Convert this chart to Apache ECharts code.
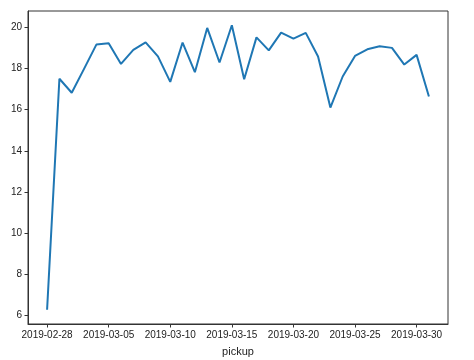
<!DOCTYPE html>
<html><head><meta charset="utf-8">
<script src="https://cdn.jsdelivr.net/npm/echarts@6/dist/echarts.min.js"></script>
<style>html,body{margin:0;padding:0;background:#fff}#c{width:474px;height:360px}</style>
</head><body><div id="c"></div>
<script>
const dates = ["2019-02-28","2019-03-01","2019-03-02","2019-03-03","2019-03-04","2019-03-05","2019-03-06","2019-03-07","2019-03-08","2019-03-09","2019-03-10","2019-03-11","2019-03-12","2019-03-13","2019-03-14","2019-03-15","2019-03-16","2019-03-17","2019-03-18","2019-03-19","2019-03-20","2019-03-21","2019-03-22","2019-03-23","2019-03-24","2019-03-25","2019-03-26","2019-03-27","2019-03-28","2019-03-29","2019-03-30","2019-03-31"];
const values = [6.28,17.5,16.82,17.98,19.16,19.22,18.22,18.9,19.27,18.59,17.35,19.26,17.82,19.97,18.29,20.1,17.48,19.51,18.88,19.74,19.45,19.73,18.58,16.1,17.61,18.61,18.93,19.08,19.0,18.19,18.66,16.64];
const xTickLabels = ["2019-02-28","2019-03-05","2019-03-10","2019-03-15","2019-03-20","2019-03-25","2019-03-30"];
const yTicks = [6,8,10,12,14,16,18,20];
const xName = "pickup";

const DAY = 86400000;
const ts = s => Date.UTC(+s.slice(0,4), +s.slice(5,7)-1, +s.slice(8,10));
const t0 = ts(dates[0]);
const dayOf = s => Math.round((ts(s) - t0) / DAY);
const xs = dates.map(dayOf);
const xTickPos = xTickLabels.map(dayOf);
const n = xs[xs.length-1];
const pad = n * 0.05;
const vmin = Math.min(...values), vmax = Math.max(...values);
const vpad = (vmax - vmin) * 0.05;
const font = "Liberation Sans";
const chart = echarts.init(document.getElementById('c'), null, {renderer:'canvas'});
chart.setOption({
  animation:false,
  grid:{left:28,right:26,top:11,bottom:36,containLabel:false,outerBoundsMode:'none',show:true,borderColor:'#333',borderWidth:1,backgroundColor:'transparent'},
  xAxis:{
    type:'value', min:-pad, max:n+pad,
    name:xName, nameLocation:'middle', nameGap:22,
    nameTextStyle:{color:'#222',fontSize:11,fontFamily:font},
    axisLine:{show:true,onZero:false,lineStyle:{color:'#333',width:1}},
    axisTick:{show:true,length:3.5,inside:false,lineStyle:{color:'#333'},customValues:xTickPos},
    axisLabel:{color:'#222',fontSize:10,fontFamily:font,margin:6,customValues:xTickPos,formatter:v=>{const i=xTickPos.indexOf(Math.round(v));return i>=0?xTickLabels[i]:'';},hideOverlap:false},
    splitLine:{show:false}
  },
  yAxis:{
    type:'value', min:vmin-vpad, max:vmax+vpad,
    axisLine:{show:true,onZero:false,lineStyle:{color:'#333',width:1}},
    axisTick:{show:true,length:3.5,inside:false,lineStyle:{color:'#333'},customValues:yTicks},
    axisLabel:{color:'#222',fontSize:10,fontFamily:font,margin:6,customValues:yTicks,formatter:v=>String(Math.round(v))},
    splitLine:{show:false}
  },
  series:[{
    type:'line', data:xs.map((x,i)=>[x,values[i]]),
    showSymbol:false, symbol:'none',
    lineStyle:{color:'#1f77b4',width:2},
    itemStyle:{color:'#1f77b4'}
  }]
});
</script></body></html>
